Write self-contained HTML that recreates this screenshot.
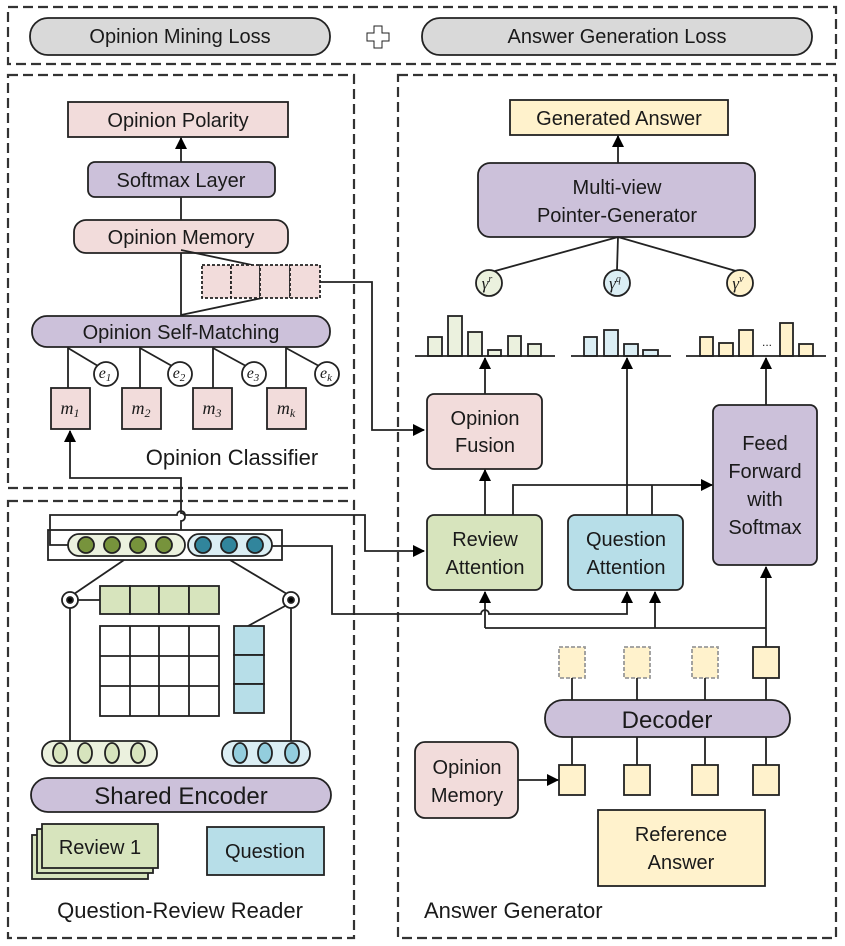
<!DOCTYPE html>
<html><head><meta charset="utf-8"><style>
html,body{margin:0;padding:0;background:#fff}
svg{display:block}
text{font-family:"Liberation Sans",sans-serif;fill:#1a1a1a}
</style></head><body>
<svg width="845" height="946" viewBox="0 0 845 946" xmlns="http://www.w3.org/2000/svg">
<defs>
<marker id="a" markerWidth="12" markerHeight="12" refX="11" refY="6" orient="auto" markerUnits="userSpaceOnUse"><path d="M0,0 L12,6 L0,12 z" fill="#000"/></marker>
</defs>
<g fill="none" stroke="#333" stroke-width="2.2" stroke-dasharray="10,5">
<rect x="8" y="7" width="828" height="57"/>
<rect x="8" y="75" width="346" height="413"/>
<rect x="8" y="501" width="346" height="437"/>
<rect x="398" y="75" width="438" height="863"/>
</g>
<g stroke="#222" stroke-width="1.8">
<rect x="30" y="18" width="300" height="37" rx="18" fill="#d9d9d9"/>
<rect x="422" y="18" width="390" height="37" rx="18" fill="#d9d9d9"/>
<path d="M374,26 h8 v7 h7 v8 h-7 v7 h-8 v-7 h-7 v-8 h7 z" fill="#fff" stroke-width="1"/>
</g>
<g font-size="20" text-anchor="middle">
<text x="180" y="43">Opinion Mining Loss</text>
<text x="617" y="43">Answer Generation Loss</text>
</g>
<!-- left top -->
<g stroke="#222" stroke-width="1.8">
<rect x="68" y="102" width="220" height="35" fill="#f2dcdb"/>
<rect x="88" y="162" width="187" height="35" rx="7" fill="#ccc1da"/>
<rect x="74" y="220" width="214" height="33" rx="12" fill="#f2dcdb"/>
<rect x="32" y="316" width="298" height="31" rx="15" fill="#ccc1da"/>
<line x1="181" y1="162" x2="181" y2="138" marker-end="url(#a)"/>
<line x1="181" y1="220" x2="181" y2="197"/>
<line x1="181" y1="253" x2="181" y2="316"/>
<line x1="181" y1="250" x2="252" y2="265"/>
<line x1="181" y1="315" x2="262" y2="298"/>
<g fill="#f2dcdb" stroke-dasharray="3,2">
<rect x="202" y="265" width="29" height="33"/><rect x="231" y="265" width="29" height="33"/><rect x="260" y="265" width="30" height="33"/><rect x="290" y="265" width="30" height="33"/>
</g>
<g fill="#f2dcdb">
<rect x="51" y="388" width="39" height="41"/><rect x="122" y="388" width="39" height="41"/><rect x="193" y="388" width="39" height="41"/><rect x="267" y="388" width="39" height="41"/>
</g>
<line x1="68" y1="347" x2="68" y2="388"/><line x1="140" y1="347" x2="140" y2="388"/><line x1="213" y1="347" x2="213" y2="388"/><line x1="286" y1="347" x2="286" y2="388"/>
<line x1="68" y1="348" x2="98" y2="366"/><line x1="140" y1="348" x2="172" y2="366"/><line x1="213" y1="348" x2="246" y2="366"/><line x1="286" y1="348" x2="319" y2="366"/>
<g fill="#fff"><circle cx="106" cy="374" r="12"/><circle cx="180" cy="374" r="12"/><circle cx="254" cy="374" r="12"/><circle cx="327" cy="374" r="12"/></g>
<path d="M320,282 H372 V430 H424" fill="none" marker-end="url(#a)"/>
<path d="M181,530 V521 a4,4 0 0 0 0,-8 V478 H70 V431" fill="none" marker-end="url(#a)"/>
</g>
<g text-anchor="middle">
<text x="70" y="414" font-size="18" style="font-family:'Liberation Serif';font-style:italic">m<tspan font-size="12" dy="3">1</tspan></text>
<text x="141" y="414" font-size="18" style="font-family:'Liberation Serif';font-style:italic">m<tspan font-size="12" dy="3">2</tspan></text>
<text x="212" y="414" font-size="18" style="font-family:'Liberation Serif';font-style:italic">m<tspan font-size="12" dy="3">3</tspan></text>
<text x="286" y="414" font-size="18" style="font-family:'Liberation Serif';font-style:italic">m<tspan font-size="12" dy="3">k</tspan></text>
<text x="105" y="378" font-size="16" style="font-family:'Liberation Serif';font-style:italic">e<tspan font-size="11" dy="3">1</tspan></text>
<text x="179" y="378" font-size="16" style="font-family:'Liberation Serif';font-style:italic">e<tspan font-size="11" dy="3">2</tspan></text>
<text x="253" y="378" font-size="16" style="font-family:'Liberation Serif';font-style:italic">e<tspan font-size="11" dy="3">3</tspan></text>
<text x="326" y="378" font-size="16" style="font-family:'Liberation Serif';font-style:italic">e<tspan font-size="11" dy="3">k</tspan></text>
</g>
<g font-size="20" text-anchor="middle">
<text x="178" y="127">Opinion Polarity</text>
<text x="181" y="187">Softmax Layer</text>
<text x="181" y="244">Opinion Memory</text>
<text x="181" y="339">Opinion Self-Matching</text>
</g>
<text x="232" y="465" font-size="22" text-anchor="middle">Opinion Classifier</text>
<!-- left bottom -->
<g stroke="#222" stroke-width="1.8">
<rect x="48" y="530" width="234" height="30" fill="#fff"/>
<rect x="68" y="534" width="117" height="22" rx="11" fill="#ebf1de"/>
<rect x="188" y="534" width="84" height="22" rx="11" fill="#dbeef4"/>
<g fill="#77933c"><circle cx="86" cy="545" r="8"/><circle cx="112" cy="545" r="8"/><circle cx="138" cy="545" r="8"/><circle cx="164" cy="545" r="8"/></g>
<g fill="#31859c"><circle cx="203" cy="545" r="8"/><circle cx="229" cy="545" r="8"/><circle cx="255" cy="545" r="8"/></g>
<path d="M68,545 H50 V515 H177 a4,4 0 0 1 8,0 H365 V551 H424" fill="none" marker-end="url(#a)"/>
<path d="M272,546 H332 V614 H481 a4,4 0 0 1 8,0 H627 V592" fill="none" marker-end="url(#a)"/>
<path d="M485,628 V592" fill="none" marker-end="url(#a)"/>
<path d="M485,628 H766 M655,628 V592" fill="none" marker-end="url(#a)"/>
<path d="M766,650 V567" fill="none" marker-end="url(#a)"/>
<line x1="124" y1="560" x2="74" y2="594"/><line x1="230" y1="560" x2="287" y2="594"/>
<line x1="78" y1="600" x2="100" y2="600"/><line x1="285" y1="606" x2="248" y2="626"/>
<line x1="70" y1="608" x2="70" y2="742"/><line x1="291" y1="608" x2="291" y2="742"/>
<circle cx="70" cy="600" r="8" fill="#fff"/><circle cx="70" cy="600" r="3" fill="#000"/>
<circle cx="291" cy="600" r="8" fill="#fff"/><circle cx="291" cy="600" r="3" fill="#000"/>
<g fill="#d7e4bd"><rect x="100" y="586" width="30" height="28"/><rect x="130" y="586" width="29" height="28"/><rect x="159" y="586" width="30" height="28"/><rect x="189" y="586" width="30" height="28"/></g>
<g fill="#fff"><rect x="100" y="626" width="119" height="90"/></g>
<path d="M130,626 V716 M159,626 V716 M189,626 V716 M100,656 H219 M100,686 H219" fill="none"/>
<g fill="#b7dee8"><rect x="234" y="626" width="30" height="29"/><rect x="234" y="655" width="30" height="29"/><rect x="234" y="684" width="30" height="29"/></g>
<rect x="42" y="741" width="115" height="25" rx="12" fill="#ebf1de"/>
<g fill="#d7e4bd"><ellipse cx="60" cy="753" rx="7" ry="10"/><ellipse cx="85" cy="753" rx="7" ry="10"/><ellipse cx="112" cy="753" rx="7" ry="10"/><ellipse cx="138" cy="753" rx="7" ry="10"/></g>
<rect x="222" y="741" width="88" height="25" rx="12" fill="#dbeef4"/>
<g fill="#93cddd"><ellipse cx="240" cy="753" rx="7" ry="10"/><ellipse cx="265" cy="753" rx="7" ry="10"/><ellipse cx="292" cy="753" rx="7" ry="10"/></g>
<rect x="31" y="778" width="300" height="34" rx="17" fill="#ccc1da"/>
<rect x="32" y="835" width="116" height="44" fill="#d7e4bd"/>
<rect x="37" y="829" width="116" height="44" fill="#d7e4bd"/>
<rect x="42" y="824" width="116" height="44" fill="#d7e4bd"/>
<rect x="207" y="827" width="117" height="48" fill="#b7dee8"/>
</g>
<text x="181" y="804" font-size="24" text-anchor="middle">Shared Encoder</text>
<text x="100" y="854" font-size="20" text-anchor="middle">Review 1</text>
<text x="265" y="858" font-size="20" text-anchor="middle">Question</text>
<text x="180" y="918" font-size="22" text-anchor="middle">Question-Review Reader</text>
<!-- right -->
<g stroke="#222" stroke-width="1.8">
<rect x="510" y="100" width="218" height="35" fill="#fff2cc"/>
<rect x="478" y="163" width="277" height="74" rx="12" fill="#ccc1da"/>
<line x1="618" y1="163" x2="618" y2="136" marker-end="url(#a)"/>
<line x1="618" y1="237" x2="495" y2="271"/><line x1="618" y1="237" x2="617" y2="270"/><line x1="618" y1="237" x2="736" y2="271"/>
<circle cx="489" cy="283" r="13" fill="#ebf1de"/><circle cx="617" cy="283" r="13" fill="#dbeef4"/><circle cx="740" cy="283" r="13" fill="#fff2cc"/>
<g fill="#ebf1de"><rect x="428" y="337" width="14" height="19"/><rect x="448" y="316" width="14" height="40"/><rect x="468" y="332" width="14" height="24"/><rect x="488" y="350" width="13" height="6"/><rect x="508" y="336" width="13" height="20"/><rect x="528" y="344" width="13" height="12"/></g>
<g fill="#dbeef4"><rect x="584" y="337" width="13" height="19"/><rect x="604" y="330" width="14" height="26"/><rect x="624" y="344" width="14" height="12"/><rect x="643" y="350" width="15" height="6"/></g>
<g fill="#fff2cc"><rect x="700" y="337" width="13" height="19"/><rect x="719" y="343" width="14" height="13"/><rect x="739" y="330" width="14" height="26"/><rect x="780" y="323" width="13" height="33"/><rect x="799" y="344" width="14" height="12"/></g>
<path d="M415,356 H555 M571,356 H671 M686,356 H826" fill="none"/>
<rect x="427" y="394" width="115" height="75" rx="7" fill="#f2dcdb"/>
<rect x="427" y="515" width="115" height="75" rx="7" fill="#d7e4bd"/>
<rect x="568" y="515" width="115" height="75" rx="7" fill="#b7dee8"/>
<rect x="713" y="405" width="104" height="160" rx="7" fill="#ccc1da"/>
<line x1="485" y1="394" x2="485" y2="358" marker-end="url(#a)"/>
<line x1="627" y1="515" x2="627" y2="358" marker-end="url(#a)"/>
<line x1="766" y1="405" x2="766" y2="358" marker-end="url(#a)"/>
<line x1="485" y1="515" x2="485" y2="470" marker-end="url(#a)"/>
<path d="M513,515 V485 H700 M652,515 V485" fill="none"/>
<line x1="690" y1="485" x2="712" y2="485" marker-end="url(#a)"/>
<rect x="545" y="700" width="245" height="37" rx="18" fill="#ccc1da"/>
<g fill="#fff2cc" stroke-dasharray="4,2" stroke="#999"><rect x="559" y="647" width="26" height="31"/><rect x="624" y="647" width="26" height="31"/><rect x="692" y="647" width="26" height="31"/></g>
<g fill="#fff2cc"><rect x="753" y="647" width="26" height="31"/>
<rect x="559" y="765" width="26" height="30"/><rect x="624" y="765" width="26" height="30"/><rect x="692" y="765" width="26" height="30"/><rect x="753" y="765" width="26" height="30"/></g>
<path d="M572,678 V700 M637,678 V700 M705,678 V700 M766,678 V700 M572,737 V765 M637,737 V765 M705,737 V765 M766,737 V765" fill="none"/>
<rect x="415" y="742" width="103" height="76" rx="10" fill="#f2dcdb"/>
<line x1="518" y1="780" x2="558" y2="780" marker-end="url(#a)"/>
<rect x="598" y="810" width="167" height="76" fill="#fff2cc"/>
</g>
<text x="767" y="346" font-size="12" text-anchor="middle">...</text>
<g text-anchor="middle">
<text x="487" y="289" font-size="17" style="font-family:'Liberation Serif';font-style:italic">γ<tspan font-size="10" dy="-7">r</tspan></text>
<text x="615" y="289" font-size="17" style="font-family:'Liberation Serif';font-style:italic">γ<tspan font-size="10" dy="-7">q</tspan></text>
<text x="738" y="289" font-size="17" style="font-family:'Liberation Serif';font-style:italic">γ<tspan font-size="10" dy="-7">v</tspan></text>
</g>
<g font-size="20" text-anchor="middle">
<text x="619" y="125">Generated Answer</text>
<text x="617" y="194">Multi-view</text>
<text x="617" y="222">Pointer-Generator</text>
<text x="485" y="425">Opinion</text><text x="485" y="452">Fusion</text>
<text x="485" y="546">Review</text><text x="485" y="574">Attention</text>
<text x="626" y="546">Question</text><text x="626" y="574">Attention</text>
<text x="765" y="450">Feed</text><text x="765" y="478">Forward</text><text x="765" y="506">with</text><text x="765" y="534">Softmax</text>
<text x="467" y="774">Opinion</text><text x="467" y="802">Memory</text>
<text x="681" y="841">Reference</text><text x="681" y="869">Answer</text>
</g>
<text x="667" y="728" font-size="24" text-anchor="middle">Decoder</text>
<text x="424" y="918" font-size="22">Answer Generator</text>
</svg>
</body></html>
